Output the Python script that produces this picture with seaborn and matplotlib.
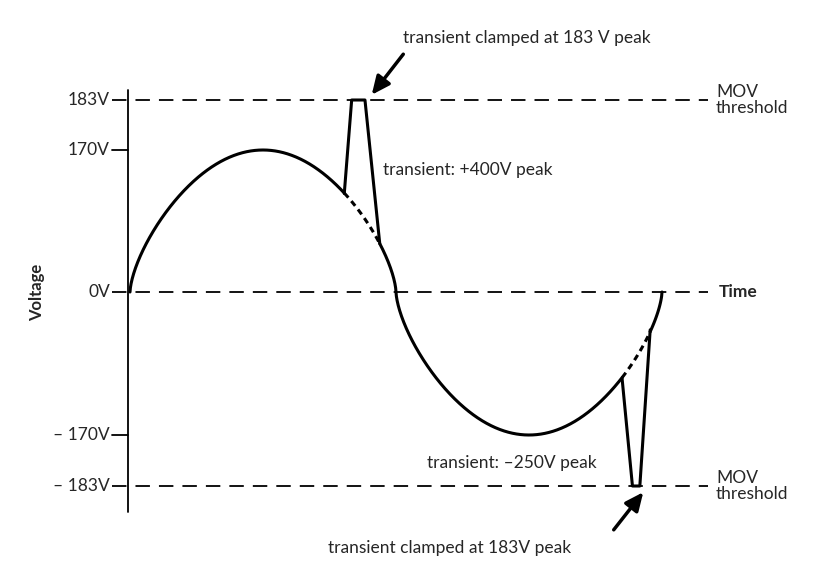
import numpy as np
import pandas as pd
import matplotlib.pyplot as plt
import seaborn as sns

sns.set_style("white")
plt.rcParams['font.family'] = ['Lato', 'DejaVu Sans']

peak = 170
mov = 183
tick_values = [183, 170, 0, -170, -183]
tick_labels = ["183V", "170V", "0V", "\u2013 170V", "\u2013 183V"]
# transient shapes (phase in degrees, volts)
pos_t = [145, 150, 159, 169]
pos_v = [118, 183, 183, 58]
neg_t = [333, 340, 345, 352]
neg_v = [-103, -183, -183, -45]

# schematic (non-linear) voltage scale -> drawing height
lev = [-183, -170, 0, 170, 183]
pix = [486, 435, 292, 150, 100]
def vy(v):
    return np.interp(v, lev, pix)
def tx(t):
    return 130 + np.asarray(t) * 532 / 360

fig = plt.figure(figsize=(8.24, 5.76), dpi=100)
ax = fig.add_axes([0, 0, 1, 1])
ax.set_xlim(0, 824)
ax.set_ylim(576, 0)
ax.axis("off")

lw = 2.2
t = np.linspace(0, 360, 1441)
s = np.sin(np.radians(t))
v = peak * np.sign(s) * np.abs(s) ** 0.65  # hand-drawn, rounded sine
df = pd.DataFrame({"x": tx(t), "y": vy(v), "t": t})
solid1 = df[df.t <= pos_t[0]]
dash1 = df[(df.t >= pos_t[0]) & (df.t <= pos_t[3])]
solid2 = df[(df.t >= pos_t[3]) & (df.t <= neg_t[0])]
dash2 = df[(df.t >= neg_t[0]) & (df.t <= neg_t[3])]
solid3 = df[df.t >= neg_t[3]]
for part in (solid1, solid2, solid3):
    sns.lineplot(data=part, x="x", y="y", ax=ax, color="black", lw=lw, sort=False)
for part in (dash1, dash2):
    ax.plot(part.x, part.y, color="black", lw=lw, ls=(0, (2, 1.5)))
ax.plot(tx(pos_t), vy(pos_v), color="black", lw=lw)
ax.plot(tx(neg_t), vy(neg_v), color="black", lw=lw)

# axis and reference lines
ax.plot([128, 128], [90, 512], color="black", lw=1.3)
for val in (mov, 0, -mov):
    ax.plot([112, 708], [vy(val)] * 2, color="black", lw=1.3, ls=(0, (8, 5)))
for val in (peak, -peak):
    ax.plot([112, 128], [vy(val)] * 2, color="black", lw=1.3)
for val, lab in zip(tick_values, tick_labels):
    ax.text(110, vy(val), lab, ha="right", va="center", fontsize=12.5)

ax.text(37, 292, "Voltage", rotation=90, ha="center", va="center",
        fontsize=12, fontweight="bold")
ax.text(719, 292, "Time", ha="left", va="center", fontsize=12.5, fontweight="bold")
for val in (mov, -mov):
    ax.text(716, vy(val), "MOV\nthreshold", ha="left", va="center",
            fontsize=12.5, linespacing=0.95)

ax.text(403, 38, "transient clamped at 183 V peak", ha="left", va="center", fontsize=12.5)
ax.text(383, 170, "transient: +400V peak", ha="left", va="center", fontsize=12.5)
ax.text(427, 463, "transient: \u2013250V peak", ha="left", va="center", fontsize=12.5)
ax.text(328, 548, "transient clamped at 183V peak", ha="left", va="center", fontsize=12.5)

ax.annotate("", xy=(370, 97), xytext=(405, 52),
            arrowprops=dict(arrowstyle="-|>,head_length=1.1,head_width=0.5",
                            color="black", lw=2.5))
ax.annotate("", xy=(645, 490), xytext=(612, 532),
            arrowprops=dict(arrowstyle="-|>,head_length=1.1,head_width=0.5",
                            color="black", lw=2.5))

fig.savefig("out.png", dpi=100, facecolor="white")
